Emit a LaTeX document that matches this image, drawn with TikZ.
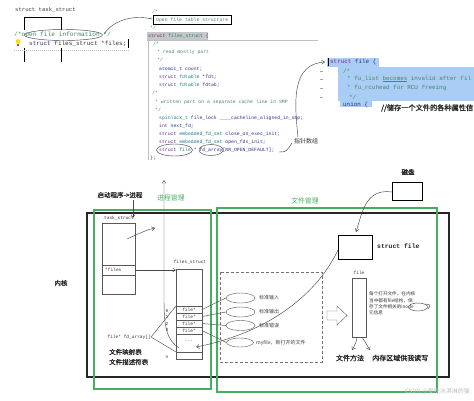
\documentclass[tikz,border=0pt]{standalone}
\usepackage{fontspec}
\newfontfamily\monof{Liberation Mono}
\newfontfamily\cjk{Noto Sans CJK SC}
\newfontfamily\cjkb{Noto Sans CJK SC}[FakeBold=1.2]
\usetikzlibrary{arrows.meta,shapes.geometric}
\definecolor{kgreen}{RGB}{70,175,95}
\definecolor{cmt}{RGB}{70,135,100}
\definecolor{kw}{RGB}{100,40,140}
\definecolor{idf}{RGB}{40,50,140}
\definecolor{typ}{RGB}{20,120,130}
\definecolor{selb}{RGB}{170,205,245}
\definecolor{annc}{RGB}{70,70,80}
\tikzset{
  code/.style={anchor=west, inner sep=0pt, font=\fontsize{4.8}{5}\monof, text=idf},
  ccode/.style={code, text=cmt},
  rcode/.style={anchor=west, inner sep=0pt, font=\fontsize{5.9}{6}\monof, text=idf},
  annot/.style={draw=annc, line width=0.45pt},
  harrow/.style={annot, -{Straight Barb[length=3pt,width=4pt]}},
  smallmono/.style={inner sep=0pt, font=\fontsize{4.5}{5}\monof, text=black!80},
  zh/.style={inner sep=0pt, font=\fontsize{6.5}{7}\cjkb, text=black!85},
  zhs/.style={inner sep=0pt, font=\fontsize{5}{5.5}\cjk, text=black!75},
  zhg/.style={inner sep=0pt, font=\fontsize{6.8}{7}\cjk, text=kgreen},
  gbox/.style={draw=kgreen, line width=1.1pt},
  thinbox/.style={draw=black!65, line width=0.5pt},
  ell/.style={draw=black!60, line width=0.45pt, ellipse},
}
\begin{document}
\begin{tikzpicture}[x=1pt,y=-1pt]
\useasboundingbox (0,0) rectangle (474,400);
\fill[white] (0,0) rectangle (474,400);

% ---------- top-left snippet ----------
\node[anchor=west, inner sep=0pt, font=\fontsize{5.6}{6}\monof, text=black!75] (ts) at (15,10) {struct task\_struct};
\draw[line width=1pt, black] (24,62) -- (24,17) -- (61,17) -- (61,62);
\fill[white] (10,30) rectangle (135,48);
\node[anchor=west, inner sep=0pt, font=\fontsize{6.2}{6.5}\monof, text=cmt] (ofi) at (14,35) {/*open file information */};
\node[anchor=west, inner sep=0pt, font=\fontsize{6}{6.5}\monof, text=black!80] (sfs) at (29,44) {\textcolor{idf}{struct} files\_struct *files;};
\fill[yellow!80!orange] (18,41.5) circle (2.3);
\fill[orange!70!black] (17,44) rectangle (19,45.5);
\draw[black, line width=0.6pt] (128,39) -- (128,48);
\draw[black!25, dash pattern=on 1pt off 1pt] (14,50) -- (130,50);
\draw[annot] (63.5,35) ellipse (39 and 5.5);

% ---------- code panel ----------
\draw[black!25, line width=0.4pt] (148,40) -- (148,160);
\draw[black!25, line width=0.4pt] (147,40) -- (318,40);
\fill[black!22] (147,32) rectangle (208,40);
\node[ccode] (c0) at (152,12) {/*};
\node[ccode] (c1a) at (149,20) {*};
\node[ccode] (c1) at (156,20) {Open file table structure};
\draw[black, line width=0.8pt] (153,15.5) rectangle (231,24.5);
\node[ccode] (c2) at (150,28) {*/};
\node[code] (c3) at (148,36) {\textcolor{kw}{struct} \textcolor{typ}{files\_struct} \{};
\node[ccode] (c4) at (153,44) {/*};
\node[ccode] (c5) at (157,52) {* read mostly part};
\node[ccode] (c6) at (157,60) {*/};
\node[code] (c7) at (159,69) {atomic\_t count;};
\node[code] (c8) at (159,77) {\textcolor{kw}{struct} \textcolor{typ}{fdtable} *fdt;};
\node[code] (c9) at (159,85) {\textcolor{kw}{struct} \textcolor{typ}{fdtable} fdtab;};
\node[ccode] (c10) at (152,93) {/*};
\node[ccode] (c11) at (155,102) {* written part on a separate cache line in SMP};
\node[ccode] (c12) at (155,110) {*/};
\node[code] (c13) at (159,118) {\textcolor{typ}{spinlock\_t} file\_lock \_\_\_\_cacheline\_aligned\_in\_smp;};
\node[code] (c14) at (159,126) {\textcolor{kw}{int} next\_fd;};
\node[code] (c15) at (159,134) {\textcolor{kw}{struct} \textcolor{typ}{embedded\_fd\_set} close\_on\_exec\_init;};
\node[code] (c16) at (159,142) {\textcolor{kw}{struct} \textcolor{typ}{embedded\_fd\_set} open\_fds\_init;};
\node[code] (c17) at (159,150) {\textcolor{kw}{struct} \textcolor{typ}{file} * fd\_array[NR\_OPEN\_DEFAULT];};
\node[code] (c18) at (150,158) {\};};
\draw[annot] (174.5,150) ellipse (18 and 6);
\draw[annot] (211,150) ellipse (12 and 5.5);
\node[anchor=west, inner sep=0pt, font=\fontsize{6}{6}\cjk, text=black!80] (zz) at (294,141) {指针数组};
\draw[annot] (279,152) .. controls (286,152) .. (292,143);
\draw[harrow] (298,137) .. controls (294,100) and (292,64) .. (325,62);
\draw[annot] (104,34) .. controls (112,22) and (130,14) .. (152,19);

% ---------- struct file panel ----------
\fill[selb] (327,57.5) rectangle (379,66.5);
\fill[selb] (338,66.5) rectangle (474,101);
\fill[selb] (340,101) rectangle (372,107);
\draw[black, line width=0.6pt] (328,58) -- (328,66);
\foreach \yy in {71,79,88,97} \draw[black!35] (320,\yy) -- (323,\yy);
\node[rcode] (f0) at (330,62) {\textcolor{kw}{struct} file \{};
\node[rcode, text=cmt] (f1) at (343,71) {/*};
\node[rcode, text=cmt] (f2) at (347,79) {* fu\_list \underline{becomes} invalid after fil};
\node[rcode, text=cmt] (f3) at (347,88) {* fu\_rcuhead for RCU freeing};
\node[rcode, text=cmt] (f4) at (349,97) {*/};
\node[rcode, text=idf] (f5) at (343,105) {union \{};
\node[anchor=west, inner sep=0pt, font=\fontsize{7.2}{7.5}\cjkb, text=black!85] (store) at (381,108) {//储存一个文件的各种属性信};

% ---------- bottom diagram ----------
\node[zh] (neihe) at (61,283) {内核};
\draw[line width=1.3pt, black!85] (87,213) rectangle (449,377);
\draw[gbox] (94,210) rectangle (211,389);
\draw[gbox] (217,208) rectangle (437,392);
\node[zhg] (jcgl) at (171,198) {进程管理};
\node[zhg] (wjgl) at (305,201) {文件管理};
\node[zh] (qd) at (120,195) {启动程序->进程};

% task_struct
\node[smallmono] (tsl) at (119,218) {task\_struct};
\draw[thinbox] (102,223) rectangle (135,294);
\draw[thinbox] (102,265) -- (135,265) (102,275) -- (135,275);
\node[smallmono, anchor=west] (tf) at (105,270) {*files};
\draw[harrow] (133,200) -- (133,218);
\draw[harrow] (127,239) .. controls (138,234) and (146,230) .. (155,228);

% files_struct
\node[smallmono] (fsl) at (190,262) {files\_struct};
\draw[thinbox] (176,269) rectangle (202,359);
\foreach \yy in {306,313,320,327,334,352} \draw[thinbox] (176,\yy) -- (202,\yy);
\foreach \yy/\nm in {309.5/a,316.5/b,323.5/c,330.5/d} \node[smallmono] (cell\nm) at (189,\yy) {file*};
\node[smallmono] (dots) at (189,341) {...};
\draw[harrow] (135,270) -- (176,270);
\node[smallmono] (d0) at (167,311) {0};
\node[smallmono] (d1) at (167,317) {1};
\node[smallmono] (d2) at (167,324) {2};
\node[smallmono] (d3) at (167,330) {3};
\node[smallmono] (dn) at (167,357) {n};
\node[smallmono, anchor=east] (fda) at (151,337) {file* fd\_array[]};
\draw[thinbox] (151,337) -- (176,306) (151,337) -- (176,352);
\node[zh, anchor=west] (ys) at (109,352) {文件映射表};
\node[zh, anchor=west] (ms) at (109,362) {文件描述符表};
\draw[harrow] (179,348) .. controls (167,340) and (164,328) .. (164,300) -- (164,180);

% dashed region and ellipses
\draw[black!55, dash pattern=on 3pt off 2pt, line width=0.45pt] (220,272) rectangle (322,362);
\node[ell, minimum width=29pt, minimum height=10pt, inner sep=0pt] (e1) at (240.5,298) {};
\node[ell, minimum width=29pt, minimum height=10pt, inner sep=0pt] (e2) at (240.5,312) {};
\node[ell, minimum width=29pt, minimum height=10pt, inner sep=0pt] (e3) at (240.5,325.5) {};
\node[ell, minimum width=27pt, minimum height=9pt, inner sep=0pt] (e4) at (240,342.5) {};
\node[zhs, anchor=west] (l1) at (259,298) {标准输入};
\node[zhs, anchor=west] (l2) at (259,312) {标准输出};
\node[zhs, anchor=west] (l3) at (259,325.5) {标准错误};
\node[zhs, anchor=west] (l4) at (256,342.5) {myfile，新打开的文件};
\draw[thinbox] (202,309.5) -- (e1.west);
\draw[thinbox] (202,316.5) -- (e2.west);
\draw[thinbox] (202,323.5) -- (e3.west);
\draw[thinbox] (202,330.5) -- (e4.west);

% struct file + disk
\draw[line width=0.9pt, black] (338,235) rectangle (372,259);
\node[anchor=west, inner sep=0pt, font=\fontsize{6.4}{7}\monof\bfseries, text=black!85] (sfl) at (377,246) {struct file};
\draw[line width=0.9pt, black] (392,182) rectangle (422,200);
\node[zh] (cp) at (408,172) {磁盘};
\draw[harrow] (392,192) .. controls (365,188) and (362,214) .. (356,232);
\draw[harrow] (338,250) .. controls (318,292) and (272,332) .. (196,347);

% file table
\node[smallmono] (fl) at (359,273) {file};
\draw[thinbox] (352,278) rectangle (366,337);
\draw[black!60, line width=0.45pt] (327,311) -- (337,311) -- (337,306) -- (347,315.5) -- (337,325) -- (337,320) -- (327,320) -- cycle;
\draw[harrow] (357,337) .. controls (356,343) .. (352,350);
\draw[harrow] (362,337) .. controls (366,343) .. (370,350);
\node[zh, font=\fontsize{7}{7}\cjkb] (ff) at (350,358) {文件方法};
\node[zh, font=\fontsize{7}{7}\cjkb, anchor=west] (nc) at (372,358) {内存区域供我读写};
\node[anchor=west, inner sep=0pt, font=\fontsize{4.6}{5}\cjk, text=black!80] (t1) at (369,294) {每个打开文件，在内核};
\node[anchor=west, inner sep=0pt, font=\fontsize{4.6}{5}\cjk, text=black!80] (t2) at (369,300.5) {当中都有file结构，保};
\node[anchor=west, inner sep=0pt, font=\fontsize{4.6}{5}\cjk, text=black!80] (t3) at (369,307) {存了文件相关的inode};
\node[anchor=west, inner sep=0pt, font=\fontsize{4.6}{5}\cjk, text=black!80] (t4) at (369,313) {元信息};
\draw[annot] (418,307) ellipse (9.5 and 4);
\draw[annot] (426,304) .. controls (431,305) .. (428,309);

\node[anchor=east, inner sep=0pt, font=\fontsize{6}{6}\cjk, text=black!25] (wm) at (470,391) {CSDN @爱吃冰淇淋的猫};
\end{tikzpicture}
\end{document}
